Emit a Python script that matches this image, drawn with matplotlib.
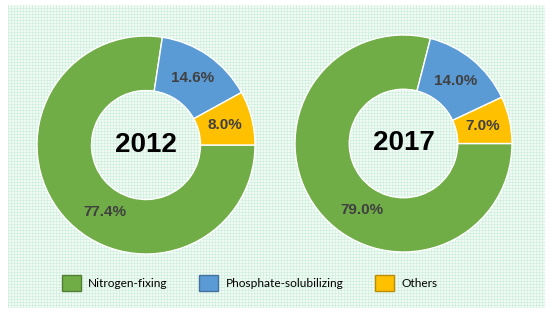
import matplotlib.pyplot as plt
import numpy as np
from matplotlib.patches import Patch

categories = ["Nitrogen-fixing", "Phosphate-solubilizing", "Others"]
years = ["2012", "2017"]
shares_2012 = [77.4, 14.6, 8.0]
shares_2017 = [79.0, 14.0, 7.0]
colors = ["#70ad47", "#5b9bd5", "#ffc000"]
edge_colors = ["#507e32", "#41719c", "#bc8c00"]

W, H = 550, 315
fig = plt.figure(figsize=(W / 100, H / 100), dpi=100)
fig.patch.set_facecolor("white")

# mint grid background
bg = fig.add_axes([8 / W, 1 - 308 / H, 537 / W, 303 / H])
bg.set_xlim(0, 537)
bg.set_ylim(0, 303)
for x in np.arange(0, 537, 3):
    bg.axvline(x, color="#d2f0e0", lw=0.6)
for y in np.arange(0, 303, 3):
    bg.axhline(y, color="#d2f0e0", lw=0.6)
bg.axis("off")
bg.add_patch(plt.Rectangle((0, 0), 537, 303, color="#f1faf5", zorder=-1))


def donut(cx, cy, r, values, year):
    ax = fig.add_axes([(cx - r) / W, 1 - (cy + r) / H, 2 * r / W, 2 * r / H])
    wedges, texts, autotexts = ax.pie(
        values, colors=colors, startangle=0, counterclock=False,
        autopct="%.1f%%", pctdistance=0.75,
        wedgeprops=dict(width=0.5, edgecolor="white", linewidth=1),
        textprops=dict(color="#404040", fontsize=11, fontweight="bold",
                       family="Liberation Sans"),
    )
    # big wedge label sits lower-left, as in the original
    ang = np.deg2rad(238)
    autotexts[0].set_position((0.72 * np.cos(ang), 0.72 * np.sin(ang)))
    ax.text(0, 0, year, ha="center", va="center", fontsize=20,
            fontweight="bold", color="black", family="Liberation Sans")
    ax.set_xlim(-1, 1)
    ax.set_ylim(-1, 1)
    ax.set_aspect("auto")


donut(146, 145, 109, shares_2012, years[0])
donut(403.5, 143.5, 108.5, shares_2017, years[1])

handles = [Patch(facecolor=c, edgecolor=e, label=l)
           for c, e, l in zip(colors, edge_colors, categories)]
fig.legend(handles=handles, loc="center left", bbox_to_anchor=(62 / W, 1 - 283 / H),
           ncol=3, frameon=False, prop=dict(family="Lato", size=8.6),
           handlelength=1.55, handleheight=1.6, handletextpad=0.65,
           columnspacing=2.65, borderpad=0, borderaxespad=0)

fig.savefig("out.png", dpi=100)
